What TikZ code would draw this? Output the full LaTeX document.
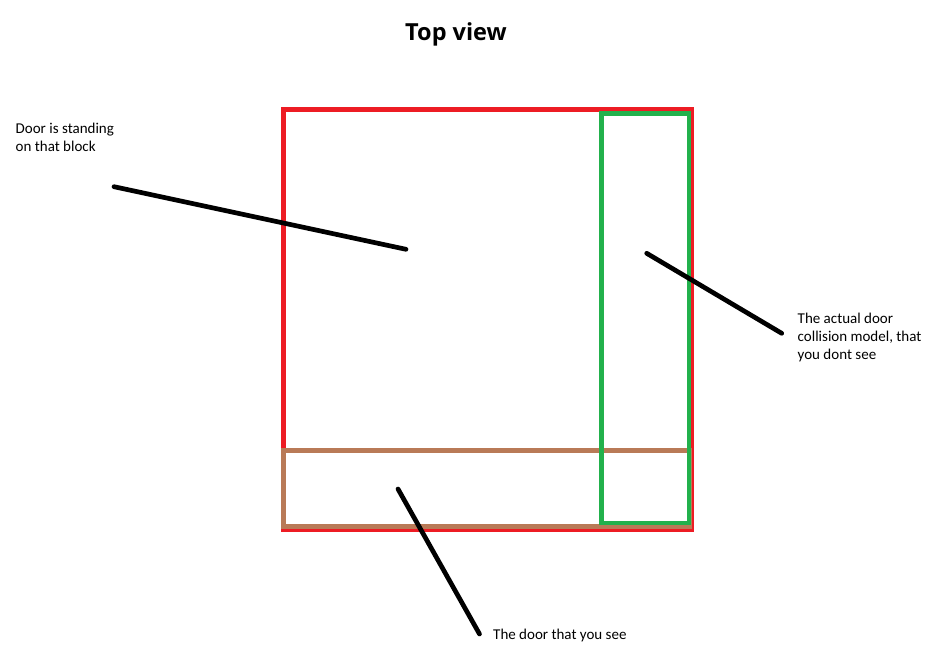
\documentclass[tikz,border=0pt]{standalone}
\usepackage{fontspec}
\setmainfont{Carlito}
\newfontfamily\titlefont{Open Sans}
\definecolor{pred}{HTML}{ED1C24}
\definecolor{pgreen}{HTML}{22B14C}
\definecolor{pbrown}{HTML}{B97A57}
\begin{document}
\begin{tikzpicture}[x=1pt,y=-1pt,
  lbl/.style={inner sep=0pt,align=left,anchor=north west,font=\fontsize{15}{18}\selectfont},
  box/.style={line width=4.7pt},
  pointer/.style={line width=4.7pt,black,line cap=round}]
\useasboundingbox[fill=white] (0,0) rectangle (935,651);
% title
\node[inner sep=0pt,anchor=base,font=\titlefont\bfseries\fontsize{23.5}{28}\selectfont] (title) at (456,40) {Top view};
% boxes
\draw[box,pred] (283.5,109.5) rectangle (691.5,529.5);
\draw[box,pbrown] (283.5,450.3) rectangle (689.5,526.3);
\draw[box,pgreen] (601.7,113.3) rectangle (689,523);
% labels
\node[lbl] (block) at (15.5,122.5) {Door is standing\\on that block};
\node[lbl] (model) at (797.5,312.5) {The actual door\\collision model, that\\you dont see};
\node[lbl] (door) at (493,628.5) {The door that you see};
% pointers
\coordinate (b1) at (114,186.7);
\coordinate (b2) at (406,249.3);
\coordinate (m1) at (646.7,253.3);
\coordinate (m2) at (781.7,333.3);
\coordinate (d1) at (398,489);
\coordinate (d2) at (479.5,634);
\draw[pointer] (b1) -- (b2);
\draw[pointer] (m1) -- (m2);
\draw[pointer] (d1) -- (d2);
\end{tikzpicture}
\end{document}
